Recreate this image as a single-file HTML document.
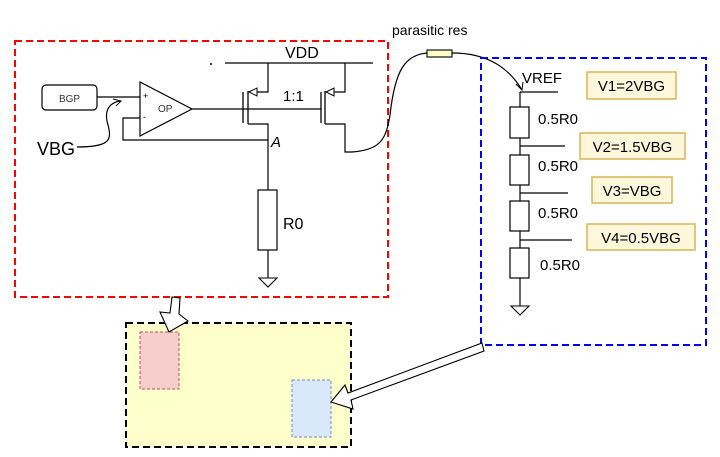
<!DOCTYPE html>
<html><head><style>
html,body{margin:0;padding:0;background:#fff;}
svg{display:block;font-family:"Liberation Sans",sans-serif;}
</style></head><body>
<svg width="720" height="457" viewBox="0 0 720 457" xmlns="http://www.w3.org/2000/svg">
<!-- red box -->
<rect x="15" y="41" width="373" height="256" fill="none" stroke="#ff0000" stroke-width="2" stroke-dasharray="7,4"/>
<!-- VDD -->
<line x1="225" y1="63" x2="373" y2="63" stroke="#000" stroke-width="1.3"/>
<circle cx="211" cy="64" r="1" fill="#000"/>
<text x="285" y="58" font-size="16">VDD</text>
<!-- BGP -->
<rect x="42" y="85" width="55" height="25" rx="4" fill="#fff" stroke="#000" stroke-width="1.2"/>
<text x="69.5" y="102" font-size="10" text-anchor="middle" fill="#333">BGP</text>
<line x1="97" y1="97" x2="140" y2="97" stroke="#000" stroke-width="1.2"/>
<!-- opamp -->
<polygon points="140,82 140,136 192,109" fill="#fff" stroke="#000" stroke-width="1.2"/>
<text x="143" y="99" font-size="9">+</text>
<text x="143" y="120" font-size="9">-</text>
<text x="158" y="112" font-size="10" fill="#333">OP</text>
<polyline points="140,118 123,118 123,140 268,140" fill="none" stroke="#000" stroke-width="1.2"/>
<!-- VBG -->
<text x="37" y="155" font-size="18">VBG</text>
<path d="M77,147 C110,147 112,140 108,125 C104,112 108,103 120,101" fill="none" stroke="#000" stroke-width="1.2"/>
<polyline points="113,99 121,101 116,106" fill="none" stroke="#000" stroke-width="1"/>
<!-- gate line -->
<line x1="192" y1="109" x2="321" y2="109" stroke="#000" stroke-width="1.2"/>
<!-- left pmos -->
<line x1="243" y1="92" x2="243" y2="123" stroke="#000" stroke-width="1.3"/>
<line x1="248" y1="91" x2="248" y2="124" stroke="#000" stroke-width="1.3"/>
<polyline points="268,63 268,92 256,92" fill="none" stroke="#000" stroke-width="1.2"/>
<polygon points="249,92 257,88 257,96" fill="#fff" stroke="#000" stroke-width="1"/>
<polyline points="248,124 268,124 268,190" fill="none" stroke="#000" stroke-width="1.2"/>
<text x="271" y="147" font-size="15" font-style="italic">A</text>
<!-- right pmos -->
<line x1="321" y1="92" x2="321" y2="123" stroke="#000" stroke-width="1.3"/>
<line x1="325" y1="91" x2="325" y2="124" stroke="#000" stroke-width="1.3"/>
<polyline points="345,63 345,92 334,92" fill="none" stroke="#000" stroke-width="1.2"/>
<polygon points="326,92 334,88 334,96" fill="#fff" stroke="#000" stroke-width="1"/>
<polyline points="325,124 345,124 345,152 352,152" fill="none" stroke="#000" stroke-width="1.2"/>
<text x="283" y="101" font-size="15">1:1</text>
<!-- R0 -->
<rect x="258" y="190" width="19" height="60" fill="#fff" stroke="#000" stroke-width="1.2"/>
<text x="283" y="229" font-size="16">R0</text>
<line x1="268" y1="250" x2="268" y2="278" stroke="#000" stroke-width="1.2"/>
<polygon points="259,278 277,278 268,287" fill="#fff" stroke="#000" stroke-width="1.1"/>
<!-- parasitic -->
<path d="M352,152 C380,150 386,140 390,115 C395,70 405,55 427,53" fill="none" stroke="#000" stroke-width="1.2"/>
<rect x="427" y="50" width="25" height="7" fill="#ffffcc" stroke="#000" stroke-width="1.1"/>
<path d="M452,53 C490,53 510,70 522,90" fill="none" stroke="#000" stroke-width="1.2"/>
<polyline points="516,84 522,90 523,82" fill="none" stroke="#000" stroke-width="1"/>
<text x="392" y="35" font-size="14">parasitic res</text>
<!-- blue box -->
<rect x="481" y="58" width="225" height="287" fill="none" stroke="#0000ff" stroke-width="2" stroke-dasharray="7,4"/>
<text x="522" y="83" font-size="15">VREF</text>
<line x1="520" y1="92" x2="558" y2="92" stroke="#000" stroke-width="1.2"/>
<line x1="520" y1="146" x2="565" y2="146" stroke="#000" stroke-width="1.2"/>
<line x1="520" y1="193" x2="568" y2="193" stroke="#000" stroke-width="1.2"/>
<line x1="520" y1="240" x2="572" y2="240" stroke="#000" stroke-width="1.2"/>
<line x1="520" y1="92" x2="520" y2="306" stroke="#000" stroke-width="1.2"/>
<rect x="510" y="107" width="19" height="31" fill="#fff" stroke="#000" stroke-width="1.2"/>
<rect x="510" y="155" width="19" height="30" fill="#fff" stroke="#000" stroke-width="1.2"/>
<rect x="510" y="201" width="19" height="30" fill="#fff" stroke="#000" stroke-width="1.2"/>
<rect x="510" y="248" width="19" height="30" fill="#fff" stroke="#000" stroke-width="1.2"/>
<polygon points="511,306 529,306 520,315" fill="#fff" stroke="#000" stroke-width="1.1"/>
<g font-size="15">
<text x="538" y="124">0.5R0</text>
<text x="538" y="171">0.5R0</text>
<text x="538" y="218">0.5R0</text>
<text x="540" y="270">0.5R0</text>
</g>
<g fill="#fff7dc" stroke="#d6b656" stroke-width="1.5">
<rect x="587" y="72" width="89" height="27"/>
<rect x="580" y="133" width="105" height="26"/>
<rect x="592" y="177" width="80" height="26"/>
<rect x="587" y="224" width="108" height="26"/>
</g>
<g font-size="15">
<text x="631.5" y="91" text-anchor="middle">V1=2VBG</text>
<text x="632.5" y="152" text-anchor="middle">V2=1.5VBG</text>
<text x="632" y="196" text-anchor="middle">V3=VBG</text>
<text x="641" y="243" text-anchor="middle">V4=0.5VBG</text>
</g>
<!-- bottom box -->
<rect x="126" y="323" width="225" height="124" fill="#ffffcc" stroke="#000" stroke-width="2" stroke-dasharray="7,4"/>
<rect x="140" y="332" width="39" height="57" fill="#f8cecc" stroke="#b85450" stroke-width="1" stroke-dasharray="3,2"/>
<rect x="292" y="380" width="39" height="57" fill="#dae8fc" stroke="#6c8ebf" stroke-width="1" stroke-dasharray="3,2"/>
<!-- arrows -->
<polygon points="172,297 180,298 179,314 188,321 169,332 160,312 170,313" fill="#fff" stroke="#000" stroke-width="1.1"/>
<polygon points="482,343 484,351 351,400 353,409 331,402 345,385 348,393" fill="#fff" stroke="#000" stroke-width="1.1"/>
</svg>
</body></html>
